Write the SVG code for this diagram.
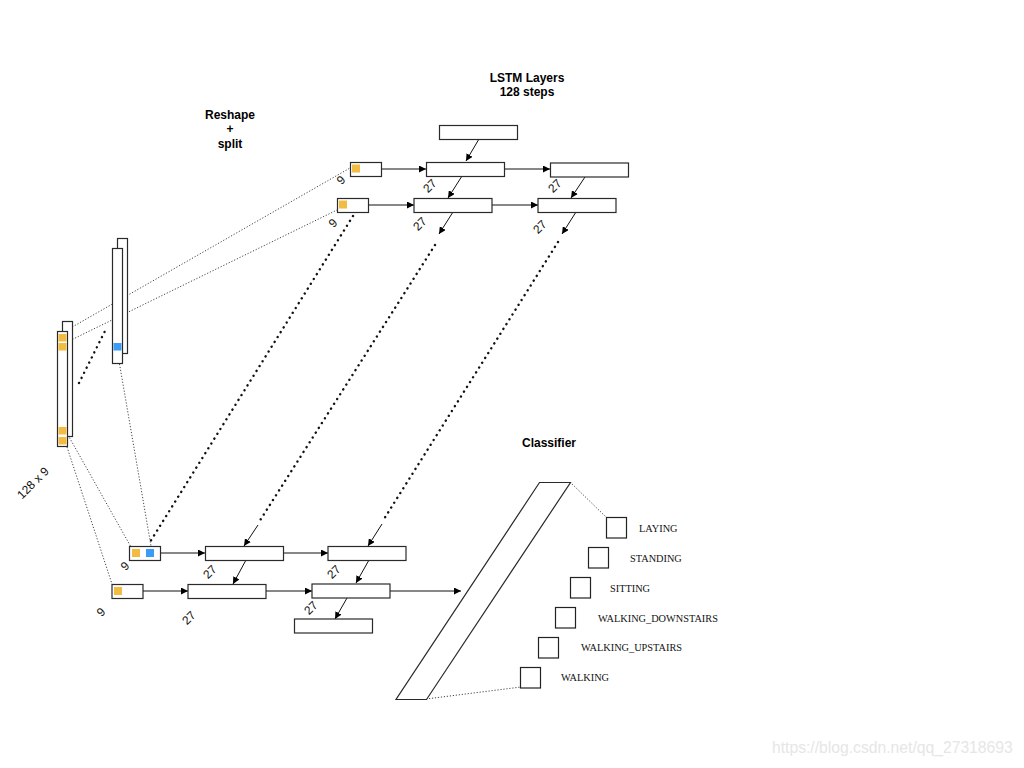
<svg xmlns="http://www.w3.org/2000/svg" width="1024" height="768" viewBox="0 0 1024 768">
<style>
.box{fill:#fff;stroke:#2a2a2a;stroke-width:1.2}
.sq{fill:#fff;stroke:#222;stroke-width:1.2}
.or{fill:#F2BC42}
.bl{fill:#3B9BF5}
.ln{stroke:#111;stroke-width:1;fill:none}
.thin{stroke:#444;stroke-width:1;stroke-dasharray:1.2 1.8;fill:none}
.thick{stroke:#111;stroke-width:2.4;stroke-linecap:round;stroke-dasharray:0.1 5.6;fill:none}
.title{font-family:"Liberation Sans",Arial,sans-serif;font-weight:bold;font-size:12px;text-anchor:middle;fill:#000}
.lab{font-family:"Liberation Sans",Arial,sans-serif;font-size:12px;text-anchor:middle;dominant-baseline:central;fill:#111}
.cls{font-family:"Liberation Serif","Times New Roman",serif;font-size:10.3px;fill:#111}
</style>
<defs>
<marker id="ah" viewBox="0 0 10 10" refX="10" refY="5" markerWidth="7" markerHeight="7" markerUnits="userSpaceOnUse" orient="auto">
<path d="M0,0 L10,5 L0,10 z" fill="#000"/>
</marker>
</defs>
<rect width="1024" height="768" fill="#fff"/>

<!-- titles -->
<g id="titles">
<text class="title" x="527" y="82">LSTM Layers</text>
<text class="title" x="527" y="96">128 steps</text>
<text class="title" x="230" y="119">Reshape</text>
<text class="title" x="230" y="133">+</text>
<text class="title" x="230" y="148">split</text>
<text class="title" x="549" y="447">Classifier</text>
</g>

<!-- connectors -->
<g id="connectors">
<!-- thin dotted -->
<line class="thin" x1="67" y1="330" x2="350" y2="168"/>
<line class="thin" x1="67" y1="342" x2="337" y2="210"/>
<line class="thin" x1="68" y1="435" x2="131" y2="547"/>
<line class="thin" x1="67" y1="447" x2="112" y2="584"/>
<line class="thin" x1="119" y1="361" x2="151" y2="546"/>
<line class="thin" x1="570" y1="482" x2="606" y2="517"/>
<line class="thin" x1="426" y1="699" x2="521" y2="687"/>
<!-- thick dotted -->
<line class="thick" x1="79" y1="383" x2="106" y2="329"/>
<line class="thick" x1="353" y1="216" x2="150" y2="542"/>
<line class="thick" x1="435" y1="245" x2="259" y2="522"/>
<line class="thick" x1="558" y1="242" x2="384" y2="519"/>
<!-- top arrows -->
<line class="ln" x1="479" y1="139" x2="466" y2="161" marker-end="url(#ah)"/>
<line class="ln" x1="381" y1="169" x2="426" y2="169" marker-end="url(#ah)"/>
<line class="ln" x1="505" y1="169" x2="550" y2="169" marker-end="url(#ah)"/>
<line class="ln" x1="462" y1="176" x2="448" y2="198" marker-end="url(#ah)"/>
<line class="ln" x1="585" y1="177" x2="571" y2="198" marker-end="url(#ah)"/>
<line class="ln" x1="369" y1="205" x2="414" y2="205" marker-end="url(#ah)"/>
<line class="ln" x1="492" y1="205" x2="538" y2="205" marker-end="url(#ah)"/>
<line class="ln" x1="453" y1="212" x2="439" y2="234" marker-end="url(#ah)"/>
<line class="ln" x1="576" y1="212" x2="562" y2="234" marker-end="url(#ah)"/>
<!-- bottom arrows -->
<line class="ln" x1="258" y1="525" x2="244" y2="546" marker-end="url(#ah)"/>
<line class="ln" x1="382" y1="524" x2="368" y2="546" marker-end="url(#ah)"/>
<line class="ln" x1="160" y1="553" x2="205" y2="553" marker-end="url(#ah)"/>
<line class="ln" x1="283" y1="553" x2="328" y2="553" marker-end="url(#ah)"/>
<line class="ln" x1="246" y1="560" x2="233" y2="584" marker-end="url(#ah)"/>
<line class="ln" x1="369" y1="560" x2="356" y2="583" marker-end="url(#ah)"/>
<line class="ln" x1="143" y1="591" x2="188" y2="591" marker-end="url(#ah)"/>
<line class="ln" x1="266" y1="591" x2="312" y2="591" marker-end="url(#ah)"/>
<line class="ln" x1="347" y1="598" x2="335" y2="619" marker-end="url(#ah)"/>
<line class="ln" x1="390" y1="591" x2="461" y2="591" marker-end="url(#ah)"/>
</g>

<!-- input columns -->
<g id="col-left">
<rect class="box" x="62.5" y="321.5" width="10" height="115"/>
<rect class="box" x="57.5" y="331.5" width="10" height="115"/>
<rect class="or" x="58.5" y="334" width="8" height="7.5"/>
<rect class="or" x="58.5" y="343" width="8" height="7.5"/>
<rect class="or" x="58.5" y="427" width="8" height="7.5"/>
<rect class="or" x="58.5" y="437" width="8" height="7.5"/>
<text class="lab" font-size="13" transform="translate(33,483) rotate(-45)">128 x 9</text>
</g>
<g id="col-right">
<rect class="box" x="117.5" y="238.5" width="10" height="115"/>
<rect class="box" x="112.5" y="248.5" width="10" height="115"/>
<rect class="bl" x="113.5" y="343" width="8" height="7.5"/>
</g>

<!-- top LSTM -->
<g id="top-h"><rect class="box" x="439.5" y="125.5" width="78" height="14"/></g>
<g id="in1"><rect class="box" x="350.5" y="162.5" width="31" height="14"/><rect class="or" x="352" y="164.5" width="8" height="8"/>
<text class="lab" transform="translate(341,180) rotate(-45)">9</text></g>
<g id="r1a"><rect class="box" x="426.5" y="162.5" width="78" height="14"/>
<text class="lab" transform="translate(430,186) rotate(-45)">27</text></g>
<g id="r1b"><rect class="box" x="550.5" y="163" width="78" height="14"/>
<text class="lab" transform="translate(555,186) rotate(-45)">27</text></g>
<g id="in2"><rect class="box" x="337.5" y="198.5" width="31" height="14"/><rect class="or" x="339" y="200.5" width="8" height="8"/>
<text class="lab" transform="translate(333,223) rotate(-45)">9</text></g>
<g id="r2a"><rect class="box" x="414" y="198.5" width="78" height="14"/>
<text class="lab" transform="translate(420,224) rotate(-45)">27</text></g>
<g id="r2b"><rect class="box" x="538" y="198.5" width="78" height="14"/>
<text class="lab" transform="translate(540,227) rotate(-45)">27</text></g>

<!-- bottom LSTM -->
<g id="bin1"><rect class="box" x="129.5" y="546.5" width="31" height="14"/><rect class="or" x="132" y="549" width="8" height="8"/><rect class="bl" x="146" y="549" width="8" height="8"/>
<text class="lab" transform="translate(125,566) rotate(-45)">9</text></g>
<g id="b1a"><rect class="box" x="205.5" y="546.5" width="78" height="14"/>
<text class="lab" transform="translate(210,572) rotate(-45)">27</text></g>
<g id="b1b"><rect class="box" x="328" y="546.5" width="78" height="14"/>
<text class="lab" transform="translate(334,572) rotate(-45)">27</text></g>
<g id="bin2"><rect class="box" x="112" y="584.5" width="31" height="14"/><rect class="or" x="114" y="587" width="8" height="8"/>
<text class="lab" transform="translate(101,612) rotate(-45)">9</text></g>
<g id="b2a"><rect class="box" x="188" y="584.5" width="78" height="14"/>
<text class="lab" transform="translate(189,618) rotate(-45)">27</text></g>
<g id="b2b"><rect class="box" x="312" y="584" width="78" height="14"/>
<text class="lab" transform="translate(311,608) rotate(-45)">27</text></g>
<g id="b3"><rect class="box" x="294.5" y="619" width="78" height="14"/></g>

<!-- classifier -->
<g id="classifier"><polygon class="box" points="539.5,482.5 570.5,482.5 426.5,699.5 396,699.5"/></g>
<g id="c-laying"><rect class="sq" x="606.5" y="517.5" width="20" height="20.5"/><text class="cls" x="639" y="532">LAYING</text></g>
<g id="c-standing"><rect class="sq" x="588.5" y="547.5" width="20" height="20.5"/><text class="cls" x="630" y="562">STANDING</text></g>
<g id="c-sitting"><rect class="sq" x="570.5" y="577.5" width="20" height="20.5"/><text class="cls" x="610" y="592">SITTING</text></g>
<g id="c-wd"><rect class="sq" x="555.5" y="607.5" width="20" height="20.5"/><text class="cls" x="598" y="622">WALKING_DOWNSTAIRS</text></g>
<g id="c-wu"><rect class="sq" x="538.5" y="637.5" width="20" height="20.5"/><text class="cls" x="581" y="651">WALKING_UPSTAIRS</text></g>
<g id="c-w"><rect class="sq" x="520.5" y="667.5" width="20" height="20.5"/><text class="cls" x="561" y="681">WALKING</text></g>

<text x="772" y="753" font-family="Liberation Sans,Arial,sans-serif" font-size="15.7" fill="#e6e6e6">https://blog.csdn.net/qq_27318693</text>
</svg>
